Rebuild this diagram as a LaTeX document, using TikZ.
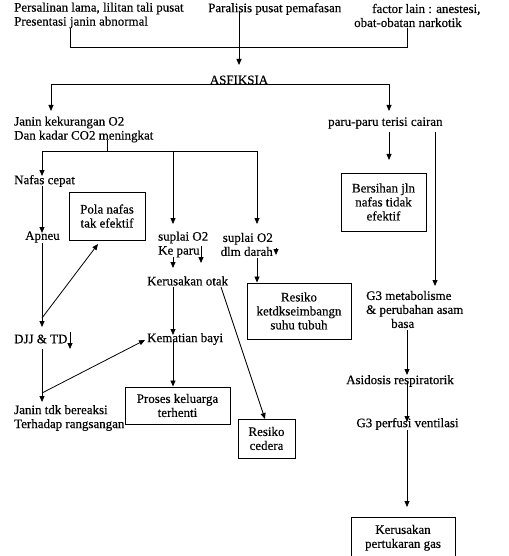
\documentclass[tikz,border=0pt]{standalone}
\usepackage{fontspec}
\setmainfont{Liberation Serif}[FakeBold=0.35]
\usetikzlibrary{arrows.meta}
\begin{document}
\begin{tikzpicture}[x=1pt,y=-1pt,
  every node/.style={inner sep=0pt,font=\fontsize{12.95}{14}\selectfont},
  txt/.style={align=left},
  boxed/.style={draw,line width=0.8pt,align=center},
  line/.style={line width=0.8pt},
  arr/.style={line width=0.8pt,-{Triangle[length=6pt,width=5pt]}}]
\useasboundingbox (0,0) rectangle (508,556);
% top texts
\node[txt,anchor=west] (t1) at (14,15.5) {Persalinan lama, lilitan tali pusat\\Presentasi janin abnormal};
\node[txt,anchor=west] (t2) at (208,9) {Paralisis pusat pemafasan};
\node[txt,anchor=west] (t3) at (354,15.5) {\hspace*{18pt}factor lain : anestesi,\\obat-obatan narkotik};
\node (asf) at (239,80) {ASFIKSIA};
\node[txt,anchor=west] (jk) at (14,129.5) {Janin kekurangan O2\\Dan kadar CO2 meningkat};
\node[txt,anchor=west] (paru) at (328,123) {paru-paru terisi cairan};
\node[txt,anchor=west] (nc) at (14,181) {Nafas cepat};
\node[txt,anchor=west] (apneu) at (25,237) {Apneu};
\node[boxed,minimum width=76pt,minimum height=48pt] (pola) at (107,216) {Pola nafas\\tak efektif};
\node[txt,anchor=west] (s1) at (158,244.5) {suplai O2\\Ke paru};
\node[align=right,anchor=east] (s2) at (273,244.5) {suplai O2\\dlm darah};
\node[txt,anchor=west] (ko) at (147,281) {Kerusakan otak};
\node[boxed,minimum width=104pt,minimum height=56pt] (rks) at (299,311) {Resiko\\ketdkseimbangn\\suhu tubuh};
\node[boxed,minimum width=85pt,minimum height=58pt] (bers) at (383.5,202) {Bersihan jln\\nafas tidak\\efektif};
\node[txt,anchor=west] (g3m) at (366,309.5) {G3 metabolisme\\\& perubahan asam\\\hspace*{25pt}basa};
\node (asid) at (400,381) {Asidosis respiratorik};
\node (g3p) at (407.5,424) {G3 perfusi ventilasi};
\node[boxed,minimum width=104pt,minimum height=50pt,anchor=north] (kp) at (403,517) {\rule{0pt}{0pt}\\[-3pt]Kerusakan\\pertukaran gas\\~};
\node[txt,anchor=west] (djj) at (14,339) {DJJ \& TD};
\node[txt,anchor=west] (janin) at (14,418) {Janin tdk bereaksi\\Terhadap rangsangan};
\node[txt,anchor=west] (km) at (147,339) {Kematian bayi};
\node[boxed,minimum width=105pt,minimum height=37pt] (pk) at (177.5,405.5) {Proses keluarga\\terhenti};
\node[boxed,minimum width=57pt,minimum height=39pt] (rc) at (266.5,438.5) {Resiko\\cedera};
% coordinates
\coordinate (c1) at (70,28); \coordinate (c2) at (407,28);
\coordinate (p1) at (239,12); \coordinate (p2) at (239,65);
\coordinate (hm) at (239,84); \coordinate (jkT) at (51,111); \coordinate (paT) at (389,111);
\coordinate (jkb) at (107,140); \coordinate (jkh) at (107,151); \coordinate (jkh2) at (173,151);
\coordinate (ncT) at (42,176); \coordinate (s1T) at (173,224); \coordinate (s2T) at (257,224);
\coordinate (ncB) at (42,186); \coordinate (apT) at (42,233);
\coordinate (apB) at (42,243); \coordinate (djjT) at (42,327);
\coordinate (dg1) at (42,318); \coordinate (polaB) at (98,244);
\coordinate (sa1) at (70,332); \coordinate (sa2) at (70,349);
\coordinate (djjB) at (42,349); \coordinate (jnT) at (42,402);
\coordinate (dg2) at (42,393); \coordinate (kmL) at (145,340);
\coordinate (sb1) at (201,246); \coordinate (sb2) at (201,263);
\coordinate (sc1) at (276,248); \coordinate (sc2) at (276,255);
\coordinate (s1B) at (173,257); \coordinate (koT) at (173,268);
\coordinate (s2B) at (257,258); \coordinate (rksT) at (257,282.5);
\coordinate (koB) at (173,287); \coordinate (kmT) at (173,335);
\coordinate (kmB) at (173,339); \coordinate (pkT) at (173,386.5);
\coordinate (koR) at (221,287); \coordinate (rcT) at (265,419);
\coordinate (paB) at (389,132); \coordinate (bersT) at (389,160);
\coordinate (paR) at (435,132); \coordinate (g3T) at (435,286);
\coordinate (g3B) at (407,330); \coordinate (asT) at (407,375);
\coordinate (asB) at (407,381); \coordinate (gpT) at (407,422);
\coordinate (gpB) at (407,430); \coordinate (kpT) at (407,507);
% connectors
\draw[line] (c1) -- (c1 |- 0,47) -- (c2 |- 0,47) -- (c2);
\draw[arr] (p1) -- (p2);
\draw[arr] (hm) -| (jkT);
\draw[arr] (hm) -| (paT);
\draw[line] (jkb) -- (jkh);
\draw[arr] (jkh) -| (ncT);
\draw[arr] (jkh) -| (s2T);
\draw[arr] (jkh2) -- (s1T);
\draw[arr] (ncB) -- (apT);
\draw[arr] (apB) -- (djjT);
\draw[arr] (dg1) -- (polaB);
\draw[arr] (sa1) -- (sa2);
\draw[arr] (djjB) -- (jnT);
\draw[arr] (dg2) -- (kmL);
\draw[arr] (sb1) -- (sb2);
\draw[arr] (sc1) -- (sc2);
\draw[arr] (s1B) -- (koT);
\draw[arr] (s2B) -- (rksT);
\draw[arr] (koB) -- (kmT);
\draw[arr] (kmB) -- (pkT);
\draw[arr] (koR) -- (rcT);
\draw[arr] (paB) -- (bersT);
\draw[arr] (paR) -- (g3T);
\draw[arr] (g3B) -- (asT);
\draw[arr] (asB) -- (gpT);
\draw[arr] (gpB) -- (kpT);
\end{tikzpicture}
\end{document}
